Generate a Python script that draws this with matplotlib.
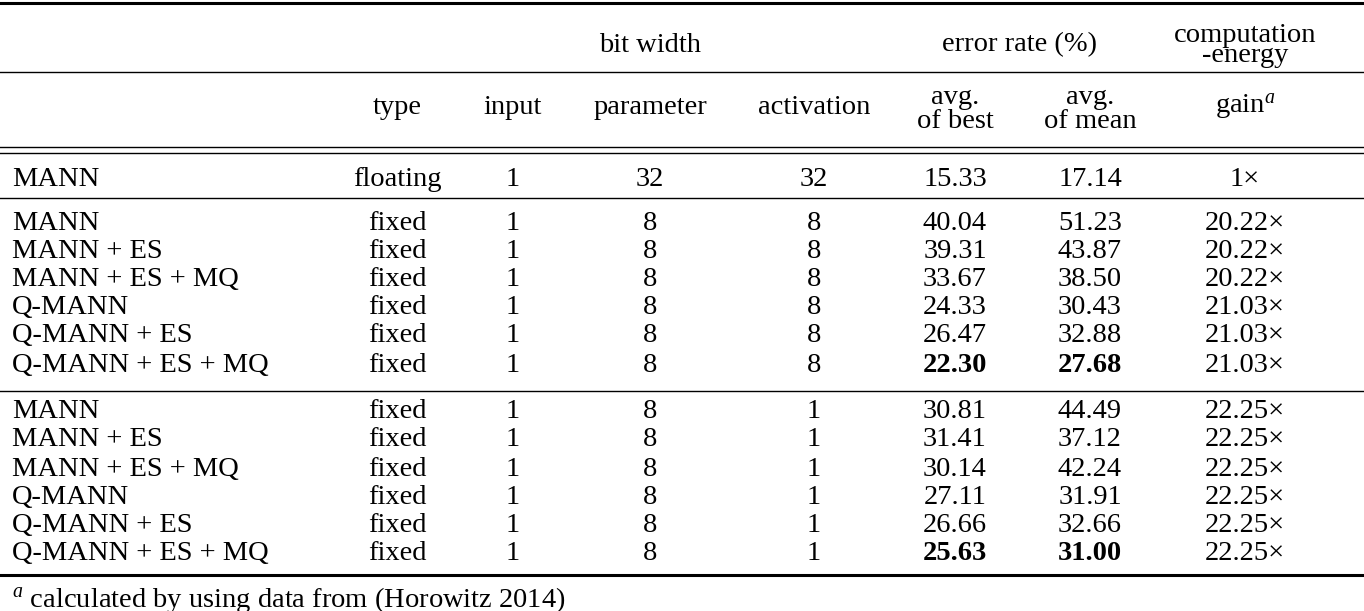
import matplotlib
matplotlib.use("Agg")
import matplotlib.pyplot as plt

plt.rcParams['font.family'] = ['Liberation Serif', 'DejaVu Serif']
plt.rcParams['mathtext.fontset'] = 'custom'
plt.rcParams['mathtext.it'] = 'Liberation Serif:italic'
plt.rcParams['mathtext.rm'] = 'Liberation Serif'

top_row = ["MANN", "floating", "1", "32", "32", "15.33", "17.14", "1×"]
names = ["MANN", "MANN + ES", "MANN + ES + MQ", "Q-MANN", "Q-MANN + ES", "Q-MANN + ES + MQ"]
g1_best = ["40.04", "39.31", "33.67", "24.33", "26.47", "22.30"]
g1_mean = ["51.23", "43.87", "38.50", "30.43", "32.88", "27.68"]
g1_gain = ["20.22×"] * 3 + ["21.03×"] * 3
g2_best = ["30.81", "31.41", "30.14", "27.11", "26.66", "25.63"]
g2_mean = ["44.49", "37.12", "42.24", "31.91", "32.66", "31.00"]
g2_gain = ["22.25×"] * 6

fig = plt.figure(figsize=(13.64, 6.11), dpi=100)
ax = fig.add_axes([0, 0, 1, 1])
ax.set_xlim(0, 1364); ax.set_ylim(611, 0); ax.axis('off')
fs = 20.5
cx = [12, 397, 513, 650, 814, 955, 1090, 1245]

def row(y, vals, bold=()):
    for i, v in enumerate(vals):
        ha = 'left' if i == 0 else 'center'
        ax.text(cx[i], y, v, ha=ha, va='center_baseline', fontsize=fs,
                fontweight='bold' if i in bold else 'normal')

ax.text(650, 42, "bit width", ha='center', va='center_baseline', fontsize=fs)
ax.text(1020, 42, "error rate (%)", ha='center', va='center_baseline', fontsize=fs)
ax.text(1245, 32, "computation", ha='center', va='center_baseline', fontsize=fs)
ax.text(1245, 53, "-energy", ha='center', va='center_baseline', fontsize=fs)
for x, t in [(cx[1], "type"), (cx[2], "input"), (cx[3], "parameter"), (cx[4], "activation")]:
    ax.text(x, 105, t, ha='center', va='center_baseline', fontsize=fs)
for x, t in [(cx[5], "of best"), (cx[6], "of mean")]:
    ax.text(x, 94, "avg.", ha='center', va='center_baseline', fontsize=fs)
    ax.text(x, 118, t, ha='center', va='center_baseline', fontsize=fs)
ax.text(1245, 103, r"gain$^{a}$", ha='center', va='center_baseline', fontsize=fs)

row(177, top_row)
ys1 = [220, 248, 277, 305, 333, 362]
ys2 = [409, 437, 466, 494, 523, 551]
for k in range(6):
    b = (5, 6) if k == 5 else ()
    row(ys1[k], [names[k], "fixed", "1", "8", "8", g1_best[k], g1_mean[k], g1_gain[k]], b)
    row(ys2[k], [names[k], "fixed", "1", "8", "1", g2_best[k], g2_mean[k], g2_gain[k]], b)

ax.text(12, 596, r"$^{a}$ calculated by using data from (Horowitz 2014)", ha='left', va='center_baseline', fontsize=fs)

for y, lw in [(3, 2.2), (72, 1.0), (147, 1.0), (153, 1.0), (198, 1.0), (391, 1.0), (575, 2.2)]:
    ax.plot([0, 1364], [y, y], color='black', lw=lw)

fig.savefig("out.png", dpi=100)
